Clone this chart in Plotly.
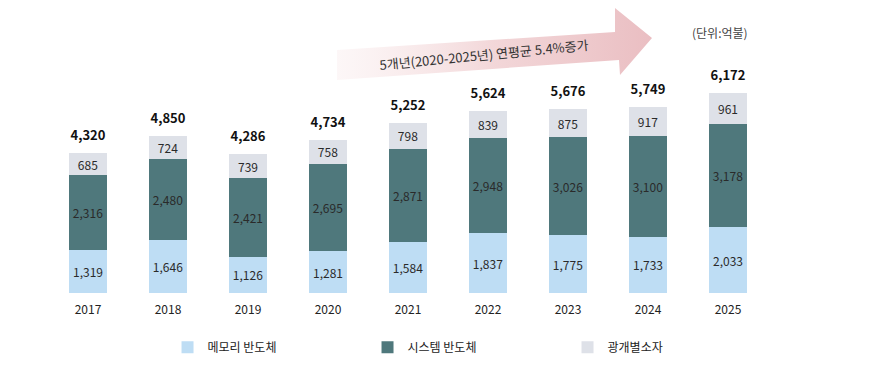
import plotly.graph_objects as go

years = ["2017", "2018", "2019", "2020", "2021", "2022", "2023", "2024", "2025"]
memory = [1319, 1646, 1126, 1281, 1584, 1837, 1775, 1733, 2033]
system = [2316, 2480, 2421, 2695, 2871, 2948, 3026, 3100, 3178]
discrete = [685, 724, 739, 758, 798, 839, 875, 917, 961]
totals = [4320, 4850, 4286, 4734, 5252, 5624, 5676, 5749, 6172]
series_names = ["메모리 반도체", "시스템 반도체", "광개별소자"]
colors = ["#BEDDF4", "#4F787C", "#DEE1E8"]

FONT = "Noto Sans CJK KR, Noto Sans, sans-serif"

fig = go.Figure()
for name, vals, col in zip(series_names, [memory, system, discrete], colors):
    fig.add_trace(go.Bar(
        x=years, y=vals, name=name, marker=dict(color=col, line=dict(width=0)),
        text=[f"{v:,}" for v in vals], textposition="inside",
        insidetextanchor="middle", textangle=0, constraintext="none",
        textfont=dict(size=12, color="#2a2a2a", family=FONT),
        hoverinfo="skip",
    ))

fig.add_trace(go.Scatter(
    x=years, y=totals, mode="markers+text", text=[f"<b>{t:,}</b>" for t in totals],
    marker=dict(size=14, color="rgba(0,0,0,0)"),
    textposition="top center", cliponaxis=False, showlegend=False, hoverinfo="skip",
    textfont=dict(size=13, color="#111", family=FONT),
))

# growth arrow on pixel-like overlay axes (page pixel coordinates)
ax_x = [337, 615, 615, 652, 620, 619, 337, 337]
ax_y = [50, 32, 8, 38, 75, 60, 80, 50]
fig.add_trace(go.Scatter(
    x=ax_x, y=ax_y, xaxis="x2", yaxis="y2", mode="lines", fill="toself",
    line=dict(width=0), showlegend=False, hoverinfo="skip",
    fillgradient=dict(type="horizontal", colorscale=[
        [0, "rgba(248,232,233,0.35)"], [0.5, "rgba(241,210,212,0.9)"], [1, "rgba(234,190,194,1)"]]),
))
fig.add_annotation(x=484, y=54, xref="x2", yref="y2", text="5개년(2020-2025년) 연평균 5.4%증가",
                   showarrow=False, textangle=-5.5,
                   font=dict(size=13, color="#333", family=FONT))
fig.add_annotation(x=720, y=32, xref="x2", yref="y2", text="(단위:억불)",
                   showarrow=False, font=dict(size=12, color="#444", family=FONT))

fig.update_layout(
    width=870, height=373,
    margin=dict(l=40, r=110, t=0, b=88, autoexpand=False),
    barmode="stack", bargap=0.525,
    plot_bgcolor="white", paper_bgcolor="white",
    font=dict(family=FONT, size=12, color="#222"),
    xaxis=dict(type="category", range=[-0.5, 8.5], showgrid=False, showline=False, zeroline=False,
               ticks="", ticklabelstandoff=8, tickfont=dict(size=12, color="#222"), fixedrange=True),
    yaxis=dict(range=[0, 8796], visible=False, fixedrange=True),
    xaxis2=dict(range=[48, 768], overlaying="x", visible=False),
    yaxis2=dict(range=[293, 8], overlaying="y", visible=False),
    legend=dict(orientation="h", x=0.166, xanchor="left", y=-0.19, yanchor="middle",
                traceorder="normal", entrywidth=155, entrywidthmode="pixels",
                font=dict(size=12, color="#222", family=FONT)),
    showlegend=True,
)

fig.write_html("out.html")
